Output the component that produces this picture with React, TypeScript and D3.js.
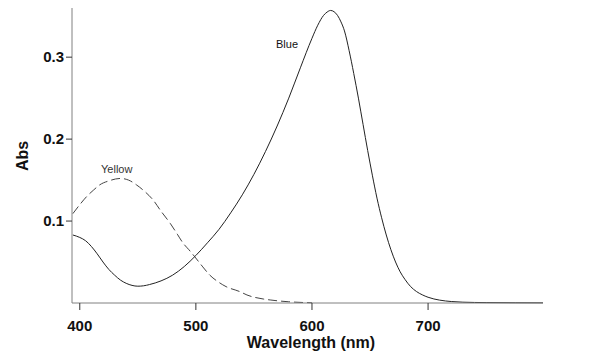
import React from "react";
import * as d3 from "d3";

const blueWl = [394, 400, 405, 410, 415, 420, 425, 430, 435, 440, 445, 450, 455, 460, 470, 480, 490, 500, 510, 520, 530, 540, 550, 560, 570, 580, 590, 600, 605, 610, 613, 616, 619, 622, 625, 628, 632, 636, 640, 644, 648, 652, 656, 660, 664, 668, 672, 676, 680, 685, 690, 695, 700, 710, 720, 730, 750, 775, 799];
const blueAbs = [0.083, 0.080, 0.076, 0.069, 0.060, 0.050, 0.041, 0.034, 0.028, 0.024, 0.0215, 0.0205, 0.021, 0.0225, 0.027, 0.034, 0.0445, 0.058, 0.0735, 0.090, 0.110, 0.132, 0.157, 0.185, 0.216, 0.250, 0.287, 0.323, 0.339, 0.351, 0.355, 0.357, 0.3555, 0.351, 0.343, 0.332, 0.308, 0.280, 0.250, 0.218, 0.186, 0.156, 0.128, 0.104, 0.083, 0.065, 0.050, 0.038, 0.029, 0.020, 0.014, 0.010, 0.007, 0.0035, 0.0018, 0.001, 0.0005, 0.0003, 0.0002];

const yellowWl = [394, 400, 406, 412, 417, 425, 435, 442, 449, 456, 463, 470, 478, 484, 489, 494, 499, 506, 512, 519, 526, 538, 544, 558, 564, 580, 600];
const yellowAbs = [0.109, 0.120, 0.130, 0.138, 0.144, 0.149, 0.152, 0.150, 0.144, 0.136, 0.126, 0.112, 0.097, 0.084, 0.073, 0.065, 0.0565, 0.044, 0.034, 0.026, 0.020, 0.0138, 0.0098, 0.0049, 0.0037, 0.0015, 0.0003];

const xTicks = [400, 500, 600, 700];
const yTicks = [0.1, 0.2, 0.3];

const W = 607;
const H = 359;

export default function App() {
  const x = d3.scaleLinear().domain([393.3, 799]).range([72, 543]);
  const y = d3.scaleLinear().domain([0, 0.36]).range([303, 8]);
  const line = d3
    .line<[number, number]>()
    .x((d) => x(d[0]))
    .y((d) => y(d[1]))
    .curve(d3.curveMonotoneX);
  const blue = blueWl.map((w, i) => [w, blueAbs[i]] as [number, number]);
  const yellow = yellowWl.map((w, i) => [w, yellowAbs[i]] as [number, number]);
  const font = "Arial, 'Liberation Sans', sans-serif";
  return (
    <svg
      width={W}
      height={H}
      style={{ position: "absolute", left: 0, top: 0, background: "#fff" }}
      fontFamily={font}
    >
      <rect width={W} height={H} fill="#fff" />
      <path d={line(yellow) || ""} fill="none" stroke="#444" strokeWidth={1} strokeDasharray="9,4" />
      <path d={line(blue) || ""} fill="none" stroke="#222" strokeWidth={1} />
      {/* axes */}
      <line x1={72} x2={72} y1={y(0.36)} y2={y(0)} stroke="#808080" strokeWidth={1} />
      <line x1={72} x2={x(799)} y1={303} y2={303} stroke="#808080" strokeWidth={1} />
      {yTicks.map((t) => (
        <g key={t}>
          <line x1={66} x2={72} y1={y(t)} y2={y(t)} stroke="#333" strokeWidth={1} />
          <text x={64} y={y(t) + 5} textAnchor="end" fontSize={15} fontWeight="bold" fill="#111">
            {t.toFixed(1)}
          </text>
        </g>
      ))}
      {xTicks.map((t) => (
        <g key={t}>
          <line x1={x(t)} x2={x(t)} y1={303} y2={310} stroke="#333" strokeWidth={1} />
          <text x={x(t)} y={330.5} textAnchor="middle" fontSize={15} fontWeight="bold" fill="#111">
            {t}
          </text>
        </g>
      ))}
      <text x={311} y={348} textAnchor="middle" fontSize={16} fontWeight="bold" fill="#111">
        Wavelength (nm)
      </text>
      <text
        transform="translate(28,156) rotate(-90)"
        textAnchor="middle"
        fontSize={16}
        fontWeight="bold"
        fill="#111"
      >
        Abs
      </text>
      <text x={101} y={173} fontSize={11} fill="#333">Yellow</text>
      <text x={276} y={48} fontSize={11} fill="#111">Blue</text>
    </svg>
  );
}
